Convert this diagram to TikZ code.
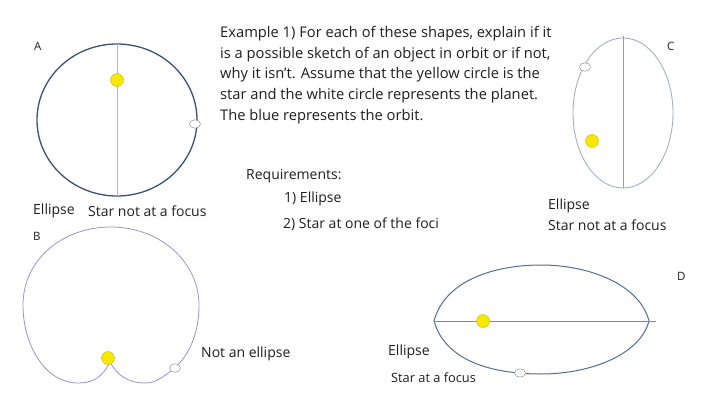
\documentclass[tikz,border=0pt]{standalone}
\usepackage{fontspec}
\setmainfont{Open Sans}
\usetikzlibrary{shapes.geometric}
\definecolor{navy}{HTML}{3A5075}
\definecolor{lavender}{HTML}{9494D2}
\definecolor{paleblue}{HTML}{A3AECA}
\definecolor{steel}{HTML}{4F6E9C}
\definecolor{sunyellow}{HTML}{F7E800}
\definecolor{sunrim}{HTML}{C9B300}
\definecolor{inkgray}{HTML}{1E1E1E}

\begin{document}
\begin{tikzpicture}
        [x=1pt, y=-1pt,
         star/.style={circle, draw=sunrim, fill=sunyellow, thin, minimum size=13pt, inner sep=0pt},
         planet/.style={ellipse, draw=gray, fill=white, thin, minimum width=11pt, minimum height=8.5pt, inner sep=0pt},
         txt/.style={anchor=west, inner sep=0pt, text=inkgray, font=\fontsize{14}{17}\selectfont},
         tag/.style={anchor=west, inner sep=0pt, text=inkgray, font=\fontsize{11.5}{13}\selectfont}]
        \useasboundingbox (0,0) rectangle (715,402);
        % shape A
        \draw[navy, line width=1.3pt] (117,120) ellipse [x radius=80, y radius=76];
        \coordinate (atop) at (117,44);
        \coordinate (abot) at (117,196);
        \draw[gray!55, line width=0.9pt] (atop) -- (abot);
        \path node (starA) at (117,80) [star] {}
              node (planetA) at (195,124) [planet] {}
              node (tagA) at (34,46) [tag] {A}
              node (ellA) at (33,211) [txt] {Ellipse}
              node (focA) at (88,211) [txt] {Star not at a focus};
        % shape B
        \draw[lavender, line width=0.8pt] (110,362) .. controls (102,378) and (92,383) .. (78,383)
              .. controls (45,383) and (23,345) .. (23,305)
              .. controls (23,260) and (62,227) .. (111,227)
              .. controls (160,227) and (199,262) .. (199,305)
              .. controls (199,335) and (188,358) .. (172,370)
              .. controls (162,378) and (155,383) .. (145,383)
              .. controls (128,383) and (117,375) .. (110,362);
        \path node (starB) at (108,358) [star] {}
              node (planetB) at (175,368) [planet] {}
              node (tagB) at (33,236) [tag] {B}
              node (notB) at (201,354) [txt] {Not an ellipse};
        % shape C
        \draw[paleblue, line width=0.9pt] (623,113) ellipse [x radius=50, y radius=75];
        \coordinate (ctop) at (623,36);
        \coordinate (cbot) at (623,188);
        \draw[paleblue!90!black, line width=0.8pt] (ctop) -- (cbot);
        \path node (planetC) at (585,67) [planet] {}
              node (starC) at (592,141) [star] {}
              node (tagC) at (667,46) [tag] {C}
              node (ellC) at (548,206) [txt] {Ellipse}
              node (focC) at (548,225) [txt] {Star not at a focus};
        % shape D
        \draw[steel, line width=1pt] (434,321) .. controls (445,280) and (495,265) .. (541,265)
              .. controls (590,265) and (640,285) .. (649,321)
              .. controls (640,355) and (590,374) .. (541,374)
              .. controls (490,374) and (445,360) .. (434,321);
        \coordinate (dleft) at (434,321);
        \coordinate (dright) at (656,321);
        \draw[steel!80, line width=0.8pt] (dleft) -- (dright);
        \path node (starD) at (483,321) [star] {}
              node (planetD) at (520,373) [planet] {}
              node (tagD) at (677,276) [tag] {D}
              node (ellD) at (388,352) [txt] {Ellipse}
              node (focD) at (391,378) [tag, font=\fontsize{12.8}{15}\selectfont] {Star at a focus};
        % question text
        \node (question) at (220,75) [txt, align=left, font=\fontsize{14.7}{20.7}\selectfont]
              {Example 1) For each of these shapes, explain if it\\
               is a possible sketch of an object in orbit or if not,\\
               why it isn’t. Assume that the yellow circle is the\\
               star and the white circle represents the planet.\\
               The blue represents the orbit.};
        \path node (req) at (246,176) [txt] {Requirements:}
              node (reqA) at (284,199) [txt] {1) Ellipse}
              node (reqB) at (283,224) [txt] {2) Star at one of the foci};
      \end{tikzpicture}
\end{document}
